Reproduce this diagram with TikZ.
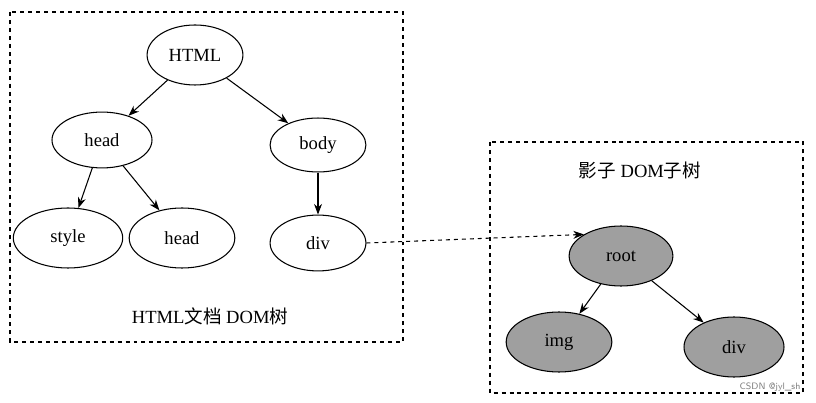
\documentclass[tikz,border=0pt]{standalone}
\usepackage{fontspec}
\setmainfont{Liberation Serif}
\newfontfamily\cjk{Noto Sans CJK SC}
\usetikzlibrary{arrows.meta,shapes.geometric}
\begin{document}
\begin{tikzpicture}[x=0.0265cm,y=-0.0265cm,
  el/.style={draw,thick,ellipse,font=\fontsize{14}{16}\selectfont},
  sh/.style={el,fill=gray!75},
  ar/.style={thick,-{Stealth[length=8pt,width=6pt]}},
  box/.style={thick,dashed}]
\useasboundingbox[fill=white] (0,0) rectangle (816,403);
\draw[box] (10,12) rectangle (403,342);
\draw[box] (490,142) rectangle (803,393);
\node[el,minimum width=96\pgflinewidth,minimum width=2.54cm,minimum height=1.59cm] (html) at (195,55) {HTML};
\node[el,minimum width=2.65cm,minimum height=1.48cm] (head) at (102,140) {head};
\node[el,minimum width=2.54cm,minimum height=1.43cm] (body) at (318,145) {body};
\node[el,minimum width=2.9cm,minimum height=1.59cm] (style) at (68,238) {style};
\node[el,minimum width=2.8cm,minimum height=1.59cm] (head2) at (182,238) {head};
\node[el,minimum width=2.54cm,minimum height=1.48cm] (div) at (318,243) {div};
\node[sh,minimum width=2.75cm,minimum height=1.59cm] (root) at (621,256) {root};
\node[sh,minimum width=2.8cm,minimum height=1.59cm] (img) at (559,342) {img};
\node[sh,minimum width=2.65cm,minimum height=1.59cm] (div2) at (734,347) {div};
\draw[ar] (html) -- (head);
\draw[ar] (html) -- (body);
\draw[ar] (head) -- (style);
\draw[ar] (head) -- (head2);
\draw[ar] (body) -- (div);
\draw[ar] (root) -- (img);
\draw[ar] (root) -- (div2);
\draw[ar,dashed] (div.east) -- (root.north west);
\node[font=\fontsize{14}{16}\selectfont] (t1) at (210,316) {HTML{\cjk 文档} DOM{\cjk 树}};
\node[font=\fontsize{14}{16}\selectfont] (t2) at (640,170) {{\cjk 影子} DOM{\cjk 子树}};
\node[font=\fontsize{7}{8}\selectfont\sffamily,text=gray] (wm) at (770,387) {CSDN @jyl\_sh};
\end{tikzpicture}
\end{document}
